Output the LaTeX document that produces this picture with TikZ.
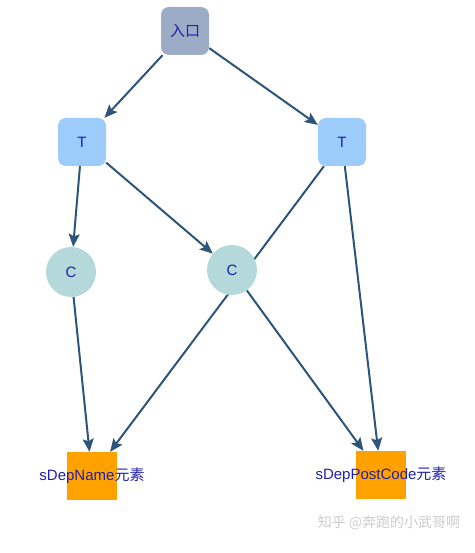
\documentclass[tikz,border=0pt]{standalone}
\usepackage{fontspec}
\setmainfont{Liberation Sans}
\newfontfamily\cjkfont{Noto Sans CJK SC}
\usetikzlibrary{arrows.meta,backgrounds,positioning}

\definecolor{edgeblue}{HTML}{2D5479}
\definecolor{entryfill}{HTML}{9CACC7}
\definecolor{tfill}{HTML}{9DCBFA}
\definecolor{cfill}{HTML}{B5D9DA}
\definecolor{elemfill}{HTML}{FFA200}
\definecolor{labelblue}{HTML}{1F1FB0}

\begin{document}
\begin{tikzpicture}[
    x=1pt, y=-1pt,
    font=\fontsize{15}{17}\selectfont,
    box/.style={rectangle, fill=tfill, minimum size=48pt, rounded corners=8pt, text=labelblue, inner sep=0pt},
    circ/.style={circle, fill=cfill, minimum size=50pt, text=labelblue, inner sep=0pt},
    elem/.style={rectangle, fill=elemfill, minimum width=50pt, minimum height=48pt, inner sep=0pt},
    watermark/.style={text=black!20, font=\cjkfont\fontsize{14}{16}\selectfont},
    arrow/.style={-{Stealth[length=13pt, width=11pt, inset=2.5pt]}, line width=2pt, edgeblue}
]
    \useasboundingbox (0,0) rectangle (474,553);

    % Entry
    \node[box, fill=entryfill] (entry) at (185,31) {\cjkfont 入口};

    % T nodes
    \node[box] (tleft) at (82,142) {T};
    \node[box] (tright) at (342,142) {T};

    % C nodes
    \node[circ] (cleft) at (71,272) {C};
    \node[circ] (cmid) at (232,270) {C};

    % Elements
    \node[elem, label={[text=labelblue]center:sDepName{\cjkfont 元素}}] (name) at (92,476) {};
    \node[elem, label={[text=labelblue]center:sDepPostCode{\cjkfont 元素}}] (post) at (381,475) {};

    % Watermark
    \node[watermark] (credit) at (389,523) {知乎 @奔跑的小武哥啊};

    % Edges behind the nodes
    \begin{scope}[on background layer]
        \draw[arrow] (entry) -- (tleft);
        \draw[arrow] (entry) -- (tright);
        \draw[arrow] (tleft) -- (cleft);
        \draw[arrow] (tleft) -- (cmid);
        \draw[arrow] (tright) -- (name);
        \draw[arrow] (tright) -- (post);
        \draw[arrow] (cleft) -- (name);
        \draw[arrow] (cmid) -- (post);
    \end{scope}

\end{tikzpicture}
\end{document}
